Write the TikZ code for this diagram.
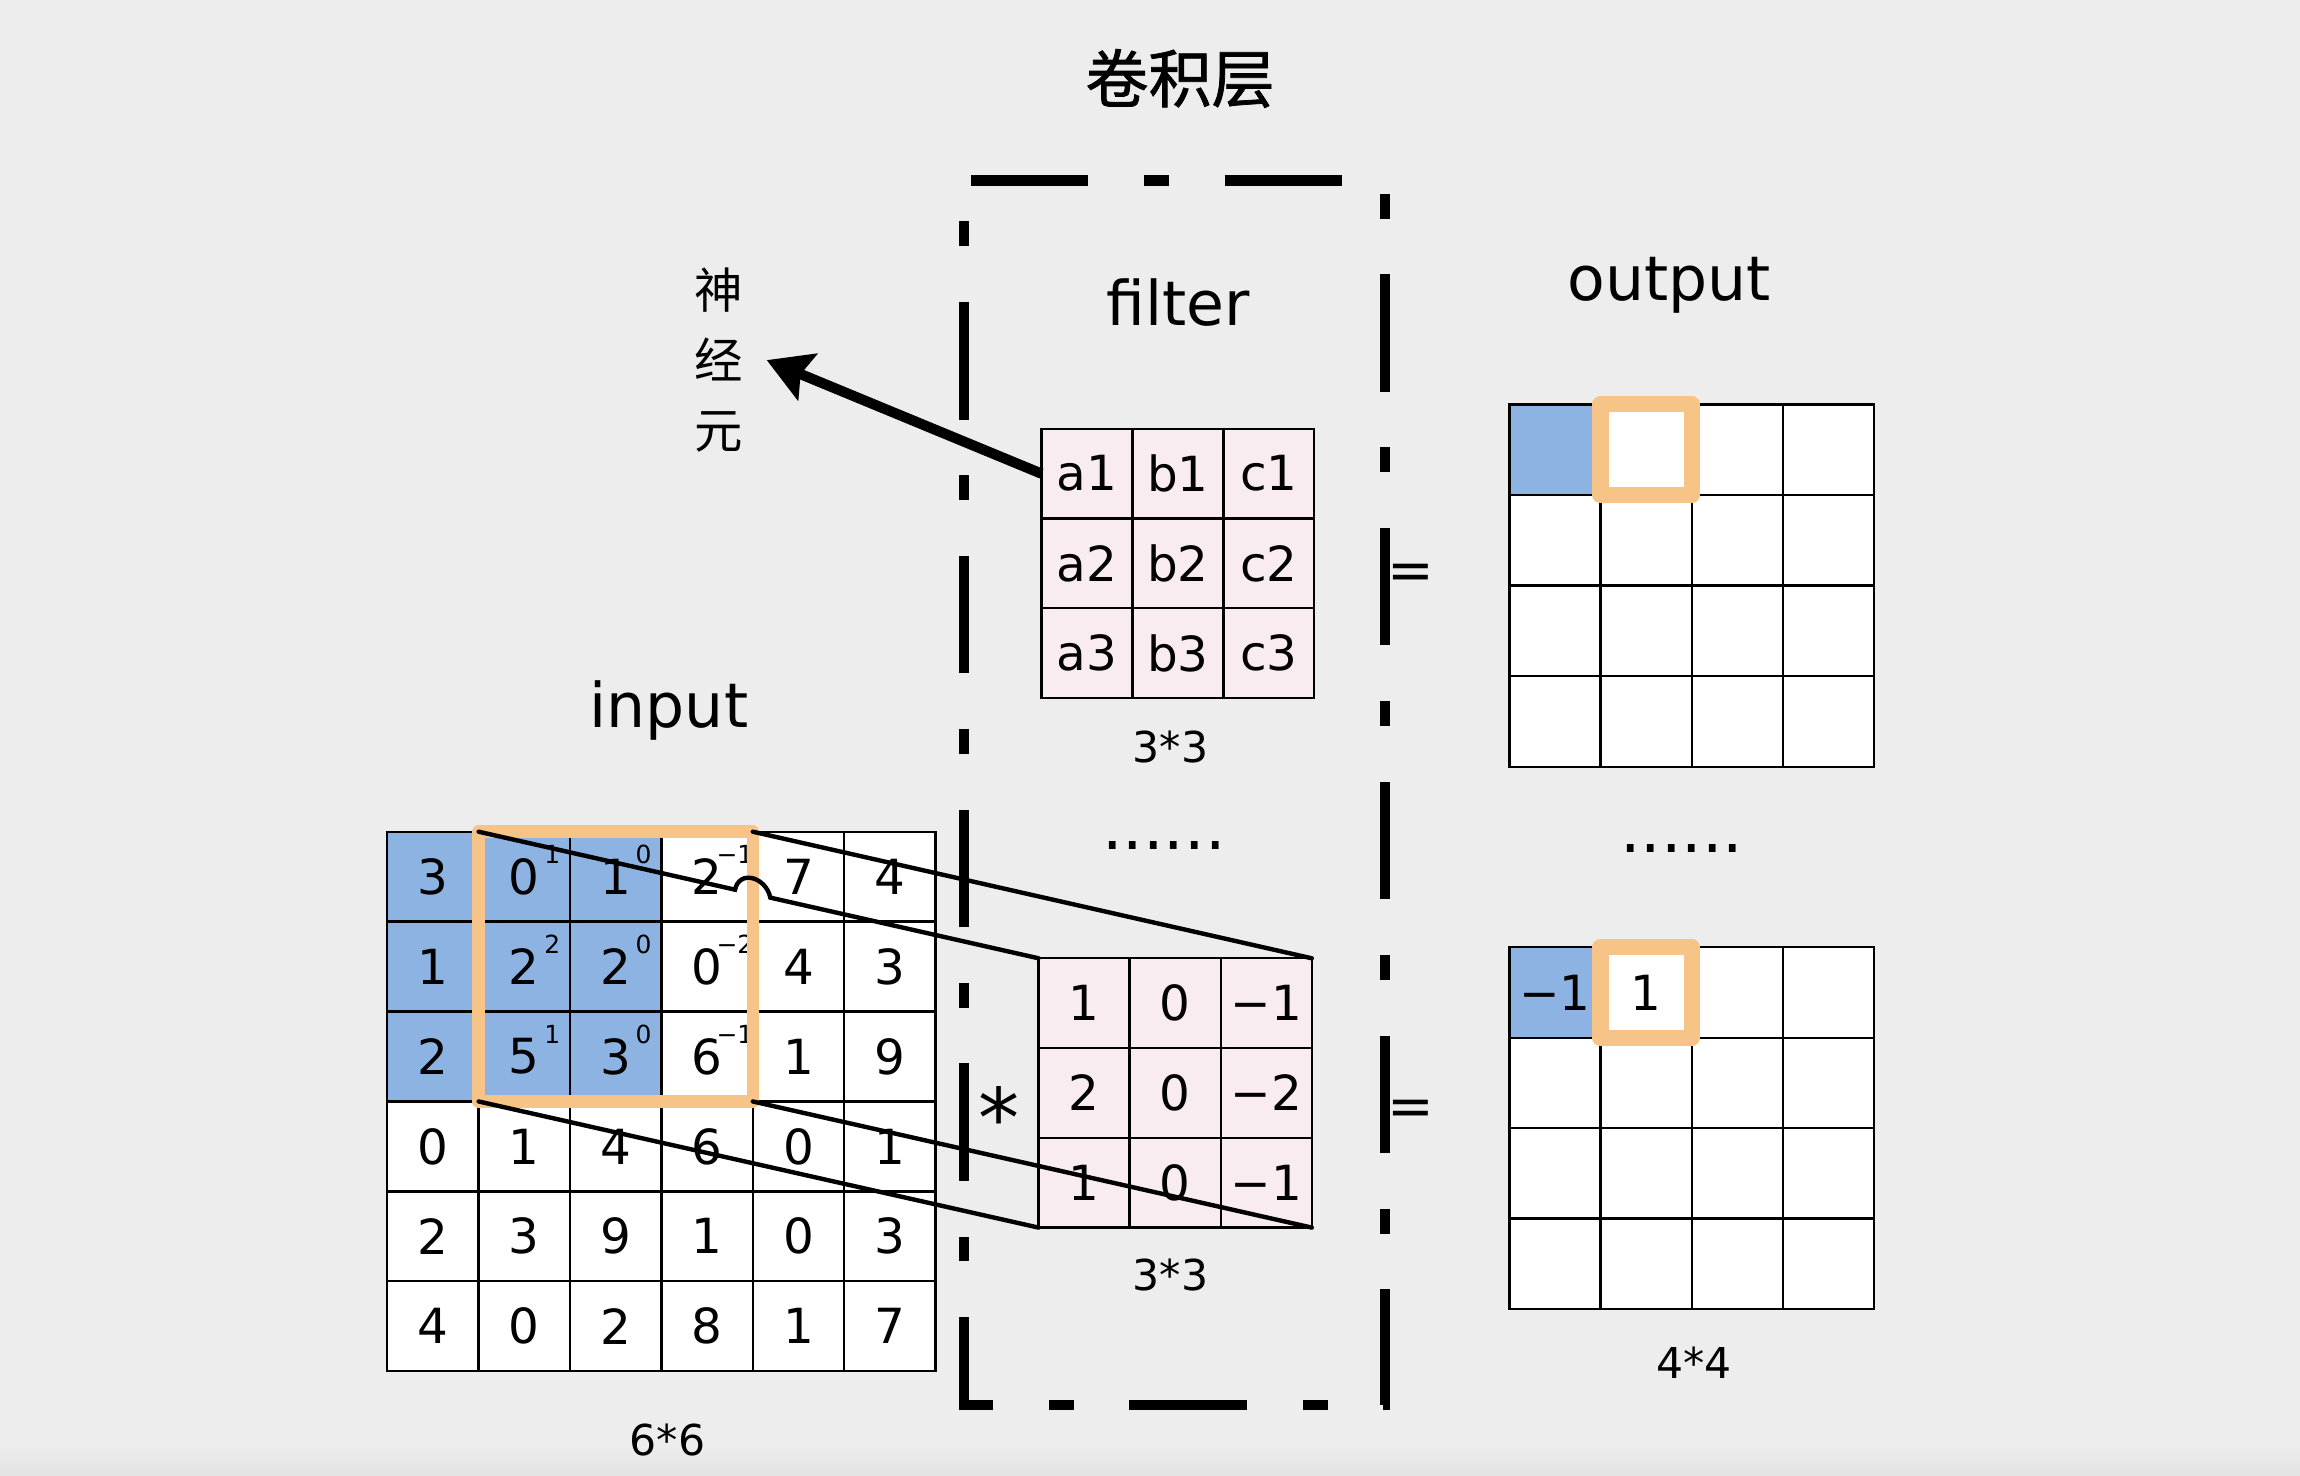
\documentclass[tikz,border=0pt]{standalone}
\usepackage{fontspec}
\setmainfont{DejaVu Sans}
\newfontfamily\cjk{Noto Sans CJK SC}
\newfontfamily\cjktitle[FakeBold=1.2]{Noto Sans CJK SC}
\usetikzlibrary{arrows.meta,calc}
\definecolor{bgc}{HTML}{EDEDED}
\definecolor{bgdark}{HTML}{E3E3E3}
\definecolor{cellblue}{HTML}{8DB3E2}
\definecolor{hlorange}{HTML}{F6C486}
\definecolor{filtpink}{HTML}{F8ECF0}
\begin{document}
\begin{tikzpicture}[x=1pt,y=-1pt,
  cell/.style={draw=black, line width=1.6pt, inner sep=0pt, outer sep=0pt, anchor=center, font=\fontsize{33}{36}\selectfont},
  supnum/.style={inner sep=0pt, font=\fontsize{17}{18}\selectfont},
  lbl/.style={inner sep=0pt, anchor=base, font=\fontsize{42}{46}\selectfont},
  dimlbl/.style={inner sep=0pt, anchor=base, font=\fontsize{29}{32}\selectfont},
  hl/.style={draw=hlorange, line join=round},
  link/.style={line width=3pt, line cap=round},
  eqsign/.style={inner sep=0pt, anchor=base, font=\fontsize{38}{40}\selectfont},
  dotrow/.style={inner sep=0pt, anchor=base, font=\fontsize{44}{48}\selectfont},
  frame/.style={line width=7pt, dash pattern=on 80pt off 38pt on 17pt off 38pt, dash phase=168pt},
]
\useasboundingbox (0,0) rectangle (1568,1006);
\fill[bgc] (0,0) rectangle (1568,1006);
\shade[top color=bgc, bottom color=bgdark] (0,986) rectangle (1568,1006);

% title
\node[inner sep=0pt, font=\cjktitle\fontsize{43}{46}\selectfont] (title) at (804.5,53.5) {卷积层};

% convolution layer frame
\draw[frame] (657,123) -- (944,123) -- (944,958) -- (657,958) -- cycle;

% input 6x6
\foreach \v [count=\k from 0] in {3,0,1,2,7,4,1,2,2,0,4,3,2,5,3,6,1,9,0,1,4,6,0,1,2,3,9,1,0,3,4,0,2,8,1,7}{
  \pgfmathtruncatemacro{\ri}{div(\k,6)}
  \pgfmathtruncatemacro{\ci}{mod(\k,6)}
  \pgfmathtruncatemacro{\isblue}{(\ri<3)*(\ci<3)}
  \ifnum\isblue=1 \def\fc{cellblue}\else\def\fc{white}\fi
  \node[cell, fill=\fc, minimum width=62.3pt, minimum height=61.3pt] (in-\ri-\ci) at ({264+62.3*(\ci+0.5)},{567+61.3*(\ri+0.5)}) {\v};
}
\foreach \ri/\ci/\s in {0/1/1, 0/2/0, 0/3/−1, 1/1/2, 1/2/0, 1/3/−2, 2/1/1, 2/2/0, 2/3/−1}{
  \node[supnum] (sup-\ri-\ci) at ($(in-\ri-\ci.center)+(19,-15)$) {\s};
}

% filter 1
\foreach \v [count=\k from 0] in {a1,b1,c1,a2,b2,c2,a3,b3,c3}{
  \pgfmathtruncatemacro{\ri}{div(\k,3)}
  \pgfmathtruncatemacro{\ci}{mod(\k,3)}
  \node[cell, fill=filtpink, minimum width=62pt, minimum height=61.2pt] (f1-\ri-\ci) at ({710+62*(\ci+0.5)},{292.3+61.2*(\ri+0.5)}) {\v};
}
% filter 2
\foreach \v [count=\k from 0] in {1,0,−1,2,0,−2,1,0,−1}{
  \pgfmathtruncatemacro{\ri}{div(\k,3)}
  \pgfmathtruncatemacro{\ci}{mod(\k,3)}
  \node[cell, fill=filtpink, minimum width=62.1pt, minimum height=61.2pt] (f2-\ri-\ci) at ({708+62.1*(\ci+0.5)},{653.3+61.2*(\ri+0.5)}) {\v};
}

% output 1
\foreach \k in {0,...,15}{
  \pgfmathtruncatemacro{\ri}{div(\k,4)}
  \pgfmathtruncatemacro{\ci}{mod(\k,4)}
  \ifnum\k=0 \def\fc{cellblue}\else\def\fc{white}\fi
  \node[cell, fill=\fc, minimum width=62.15pt, minimum height=61.75pt] (out1-\ri-\ci) at ({1029+62.15*(\ci+0.5)},{275.7+61.75*(\ri+0.5)}) {};
}
% output 2
\foreach \k in {0,...,15}{
  \pgfmathtruncatemacro{\ri}{div(\k,4)}
  \pgfmathtruncatemacro{\ci}{mod(\k,4)}
  \ifnum\k=0 \def\fc{cellblue}\else\def\fc{white}\fi
  \node[cell, fill=\fc, minimum width=62.15pt, minimum height=61.65pt] (out2-\ri-\ci) at ({1029+62.15*(\ci+0.5)},{645.8+61.65*(\ri+0.5)}) {\ifcase\k −1\or 1\fi};
}

% highlight boxes
\draw[hl, line width=8.5pt] (in-0-1.north west) rectangle (in-2-3.south east);
\draw[hl, line width=11pt] (out1-0-1.north west) rectangle (out1-0-1.south east);
\draw[hl, line width=11pt] (out2-0-1.north west) rectangle (out2-0-1.south east);

% projection lines
\draw[link] (in-0-1.north west) -- ($(in-0-1.north west)!0.458!(f2-0-0.north west)$)
  .. controls +(3,-14) and +(-3,-14) .. ($(in-0-1.north west)!0.521!(f2-0-0.north west)$) -- (f2-0-0.north west);
\draw[link] (in-0-3.north east) -- (f2-0-2.north east);
\draw[link] (in-2-1.south west) -- (f2-2-0.south west);
\draw[link] (in-2-3.south east) -- (f2-2-2.south east);

% neuron label and arrow
\node[font=\cjk\fontsize{33}{48}\selectfont, align=center, inner sep=0pt, inner xsep=16pt] (neuron) at (490,245.5) {神\\经\\元};
\draw[line width=7pt, -{Stealth[length=30pt,width=34pt,inset=5pt]}] (f1-0-0.west) -- (neuron.east);

% labels
\node[lbl] (input-lbl) at (456,496) {input};
\node[lbl] (output-lbl) at (1138,205) {output};
\node[lbl] (filter-lbl) at (803,222) {filter};
\node[dimlbl] (dim-f1) at (798,519.5) {3*3};
\node[dimlbl] (dim-f2) at (798,880) {3*3};
\node[dimlbl] (dim-in) at (455,992) {6*6};
\node[dimlbl] (dim-out) at (1155,940) {4*4};
\node[dotrow] (dots-mid) at (793.5,579) {......};
\node[dotrow] (dots-out) at (1146.5,581) {......};
\node[inner sep=0pt, anchor=base, font=\fontsize{56}{58}\selectfont] (conv-op) at (681,782) {*};
\node[eqsign] (eq-top) at (962,402) {=};
\node[eqsign] (eq-bot) at (962,767) {=};
\end{tikzpicture}
\end{document}
